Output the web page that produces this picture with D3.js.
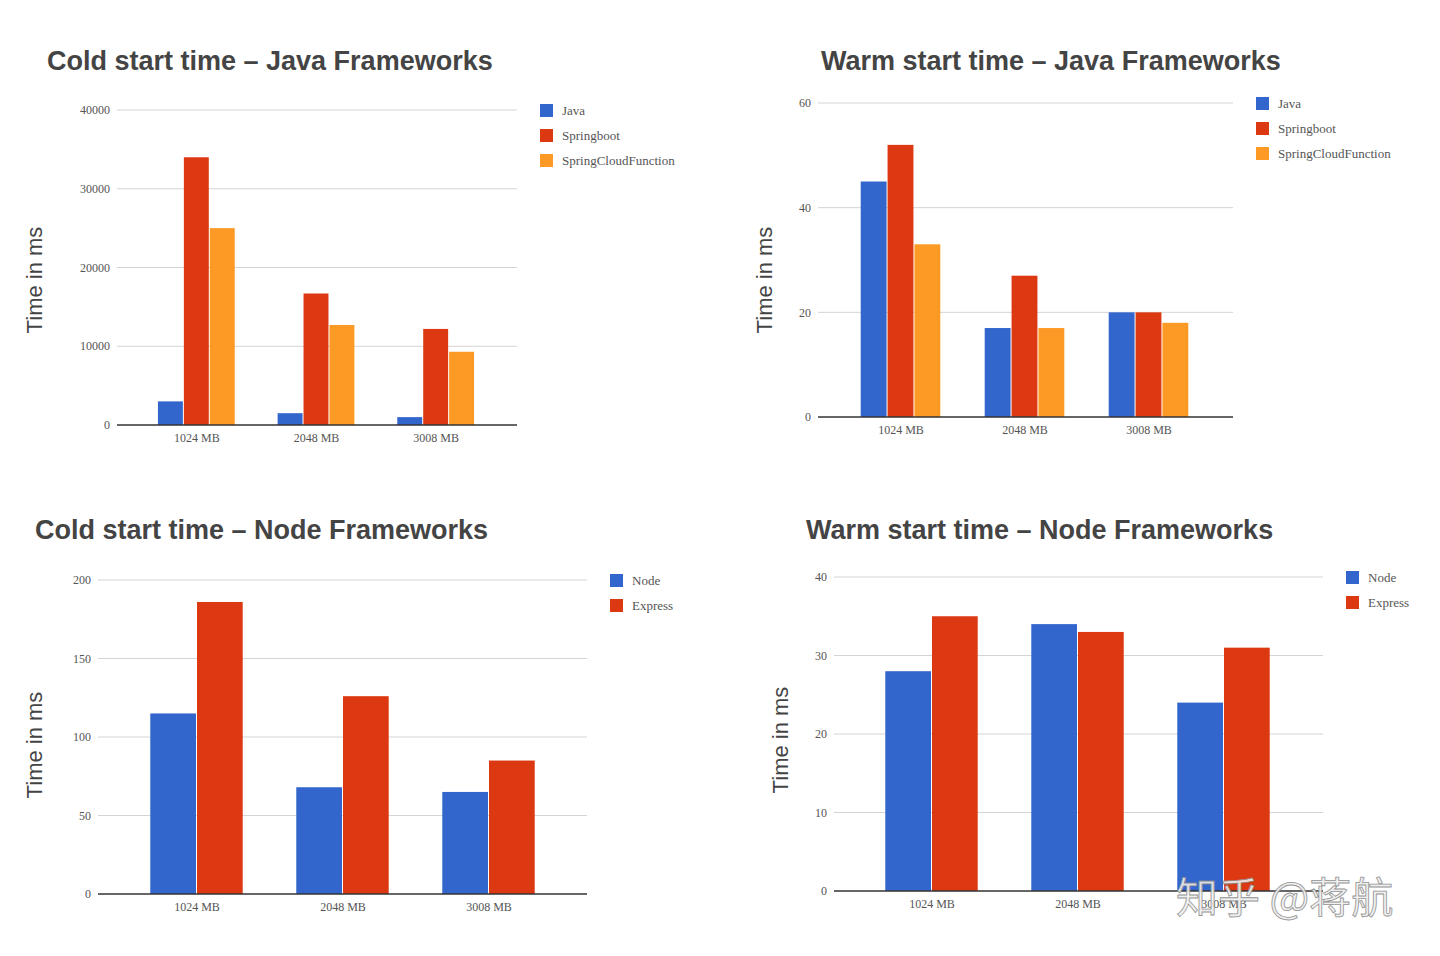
<!DOCTYPE html>
<html>
<head>
<meta charset="utf-8">
<script src="https://cdn.jsdelivr.net/npm/d3@7"></script>
<style>
  body { margin: 0; background: #fff; }
  svg { display: block; }
</style>
</head>
<body>
<svg id="chart" width="1440" height="956"></svg>
<script>
const memSizes = ["1024 MB", "2048 MB", "3008 MB"];
const javaSeries = ["Java", "Springboot", "SpringCloudFunction"];
const nodeSeries = ["Node", "Express"];

const coldJava = [3000, 1500, 1000];
const coldSpringboot = [34000, 16700, 12200];
const coldSCF = [25000, 12700, 9300];

const warmJava = [45, 17, 20];
const warmSpringboot = [52, 27, 20];
const warmSCF = [33, 17, 18];

const coldNode = [115, 68, 65];
const coldExpress = [186, 126, 85];

const warmNode = [28, 34, 24];
const warmExpress = [35, 33, 31];

const colors = ["#3366cc", "#dc3912", "#fd9a26"];

const svg = d3.select('#chart');

// each panel: layout box + data
const panels = [
    { title: "Cold start time \u2013 Java Frameworks", tx: 47, ty: 70,
      x0: 117, x1: 517, band: [137, 496], y0: 425, y1: 110, max: 40000, step: 10000,
      labelX: 42, labelY: 280, legX: 540, legY: 110,
      names: javaSeries, values: [coldJava, coldSpringboot, coldSCF], pad: 0.35 },
    { title: "Warm start time \u2013 Java Frameworks", tx: 821, ty: 70,
      x0: 818, x1: 1233, band: [839, 1211], y0: 417, y1: 103, max: 60, step: 20,
      labelX: 772, labelY: 280, legX: 1256, legY: 103,
      names: javaSeries, values: [warmJava, warmSpringboot, warmSCF], pad: 0.35 },
    { title: "Cold start time \u2013 Node Frameworks", tx: 35, ty: 539,
      x0: 98, x1: 587, band: [124, 562], y0: 894, y1: 580, max: 200, step: 50,
      labelX: 42, labelY: 745, legX: 610, legY: 580,
      names: nodeSeries, values: [coldNode, coldExpress], pad: 0.36 },
    { title: "Warm start time \u2013 Node Frameworks", tx: 806, ty: 539,
      x0: 834, x1: 1323, band: [859, 1297], y0: 891, y1: 577, max: 40, step: 10,
      labelX: 788, labelY: 740, legX: 1346, legY: 577,
      names: nodeSeries, values: [warmNode, warmExpress], pad: 0.36 }
];

panels.forEach(p => {
    const g = svg.append('g');

    g.append('text')
        .attr('x', p.tx).attr('y', p.ty)
        .style('font', 'bold 27px "Liberation Sans", Arial, sans-serif')
        .attr('fill', '#444')
        .text(p.title);

    const y = d3.scaleLinear().domain([0, p.max]).range([p.y0, p.y1]);
    const x = d3.scaleBand().domain(memSizes).range(p.band).paddingInner(p.pad).paddingOuter(p.pad / 2);
    const xs = d3.scaleBand().domain(p.names).range([0, x.bandwidth()]);

    const ticks = d3.range(0, p.max + 1, p.step);

    // gridlines
    g.selectAll('.grid').data(ticks.slice(1)).join('line')
        .attr('x1', p.x0).attr('x2', p.x1)
        .attr('y1', d => y(d)).attr('y2', d => y(d))
        .attr('stroke', '#d4d4d4');

    g.selectAll('.tick').data(ticks).join('text')
        .attr('x', p.x0 - 7).attr('y', d => y(d)).attr('dy', '0.35em')
        .attr('text-anchor', 'end')
        .style('font', '12px "Liberation Serif", serif')
        .attr('fill', '#555')
        .text(d => d);

    // bars
    p.values.forEach((vals, si) => {
        g.selectAll(null).data(vals).join('rect')
            .attr('x', (d, i) => x(memSizes[i]) + xs(p.names[si]))
            .attr('y', d => y(d))
            .attr('width', xs.bandwidth() - 1)
            .attr('height', d => p.y0 - y(d))
            .attr('fill', colors[si]);
    });

    // baseline
    g.append('line')
        .attr('x1', p.x0).attr('x2', p.x1)
        .attr('y1', p.y0).attr('y2', p.y0)
        .attr('stroke', '#333').attr('stroke-width', 1.5);

    g.selectAll('.xl').data(memSizes).join('text')
        .attr('x', d => x(d) + x.bandwidth() / 2)
        .attr('y', p.y0 + 17)
        .attr('text-anchor', 'middle')
        .style('font', '12px "Liberation Serif", serif')
        .attr('fill', '#555')
        .text(d => d);

    g.append('text')
        .attr('transform', `translate(${p.labelX},${p.labelY}) rotate(-90)`)
        .attr('text-anchor', 'middle')
        .style('font', '22px "Liberation Sans", Arial, sans-serif')
        .attr('fill', '#444')
        .text('Time in ms');

    // legend
    const leg = g.selectAll('.leg').data(p.names).join('g')
        .attr('transform', (d, i) => `translate(${p.legX},${p.legY + i * 25})`);
    leg.append('rect')
        .attr('x', 0).attr('y', -6).attr('width', 13).attr('height', 13)
        .attr('fill', (d, i) => colors[i]);
    leg.append('text')
        .attr('x', 22).attr('y', 0).attr('dy', '0.35em')
        .style('font', '13px "Liberation Serif", serif')
        .attr('fill', '#555')
        .text(d => d);
});

// watermark
svg.append('text')
    .attr('x', 1176).attr('y', 913)
    .style('font', '42px "Noto Sans CJK SC", sans-serif')
    .attr('fill', '#eee')
    .attr('stroke', '#888').attr('stroke-width', 0.8)
    .attr('opacity', 0.9)
    .text('知乎 @蒋航');
</script>
</body>
</html>
